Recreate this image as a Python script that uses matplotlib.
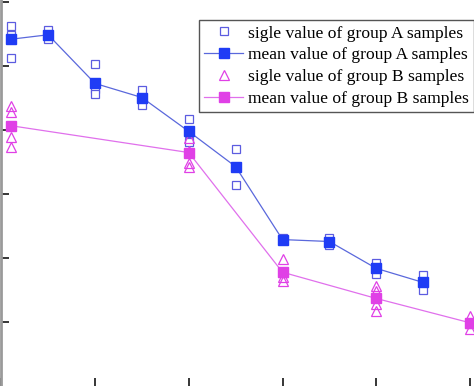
import numpy as np
import matplotlib
matplotlib.use('Agg')
import matplotlib.pyplot as plt

# group A: positions, single values per position, means
xa = [0.1, 0.5, 1.0, 1.5, 2.0, 2.5, 3.0, 3.5, 4.0, 4.5]
singles_a = [
    [5.62, 5.47, 5.12],
    [5.56, 5.48, 5.41],
    [5.02, 4.64, 4.55],
    [4.62, 4.50, 4.39],
    [4.17, 3.94, 3.80],
    [3.69, 3.42, 3.14],
    [2.30, 2.28, 2.27],
    [2.30, 2.25, 2.20],
    [1.92, 1.83, 1.75],
    [1.72, 1.61, 1.50],
]
mean_a = [5.41, 5.48, 4.72, 4.50, 3.97, 3.42, 2.28, 2.25, 1.83, 1.61]

# group B
xb = [0.1, 2.0, 3.0, 4.0, 5.0]
singles_b = [
    [4.36, 4.28, 3.89, 3.73],
    [3.86, 3.67, 3.48, 3.41],
    [1.98, 1.77, 1.70, 1.63],
    [1.56, 1.47, 1.27, 1.16],
    [1.08, 0.98, 0.89],
]
mean_b = [4.06, 3.64, 1.77, 1.36, 0.98]

labels = ['sigle value of group A samples', 'mean value of group A samples',
          'sigle value of group B samples', 'mean value of group B samples']

W, H = 474, 386
fig = plt.figure(figsize=(W / 100, H / 100), dpi=100)
# axes deliberately extends past the figure (the reference is a crop)
x0, px_x = 1.25, 93.75
y0, px_y = 385.5, 64.0
xmax, ymax = 5.4, 7.0
ax = fig.add_axes([x0 / W, (H - y0) / H, xmax * px_x / W, ymax * px_y / H])

col_a_open = '#5c5ce0'
col_a_fill = '#1f3cf5'
col_a_line = '#5a68dc'
col_b = '#e040e6'
col_b_line = '#e070ec'

sx = [x for x, s in zip(xa, singles_a) for _ in s]
sy = [v for s in singles_a for v in s]
ax.plot(sx, sy, ls='none', marker='s', ms=5.5, mfc='white', mec=col_a_open, mew=0.9,
        label=labels[0], zorder=3)
ax.plot(xa, mean_a, color=col_a_line, lw=0.9, marker='s', ms=6.5, mfc=col_a_fill,
        mec=col_a_fill, label=labels[1], zorder=4)

tx = [x for x, s in zip(xb, singles_b) for _ in s]
ty = [v for s in singles_b for v in s]
ax.plot(tx, ty, ls='none', marker='^', ms=7, mfc='none', mec=col_b, mew=0.9,
        label=labels[2], zorder=3)
ax.plot(xb, mean_b, color=col_b_line, lw=0.9, marker='s', ms=6.5, mfc=col_b,
        mec=col_b, label=labels[3], zorder=4)

ax.set_xlim(0, xmax)
ax.set_ylim(0, ymax)
ax.set_xticks([0, 1, 2, 3, 4, 5])
ax.set_yticks([1, 2, 3, 4, 5, 6])
ax.tick_params(direction='in', length=6, width=1.1, color='black',
               labelleft=False, labelbottom=False)
for s in ['top', 'right', 'bottom']:
    ax.spines[s].set_visible(False)
ax.spines['left'].set_color('#9a9a9a')
ax.spines['left'].set_linewidth(2)

leg = ax.legend(loc='upper left', bbox_to_anchor=(199 / W, 1 - 20 / H),
                bbox_transform=fig.transFigure, borderaxespad=0,
                prop={'family': 'Liberation Serif', 'size': 12.6},
                frameon=True, fancybox=False, edgecolor='#555555',
                framealpha=1, handlelength=2.2, handletextpad=0.3,
                borderpad=0.3, labelspacing=0.32)
leg.get_frame().set_linewidth(1.0)

fig.savefig('out.png', dpi=100)
